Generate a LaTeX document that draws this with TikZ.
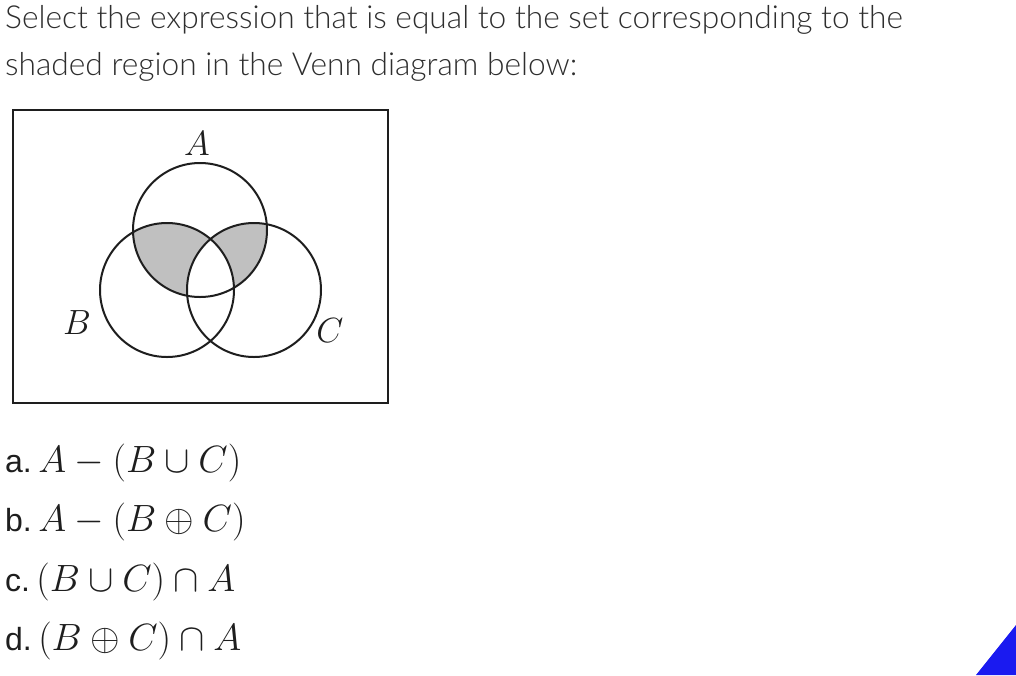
\RequirePackage{fix-cm}
\documentclass[tikz,border=0pt]{standalone}
\usepackage{fontspec}
\newfontfamily\titlefont{Lato Light}
\newfontfamily\optfont{Liberation Sans}
\definecolor{titlegray}{HTML}{2E2E2E}
\definecolor{venngray}{HTML}{C0C0C0}
\definecolor{ink}{HTML}{1E1E1E}
\definecolor{blueblob}{HTML}{1A1AF0}
\tikzset{
  titletext/.style={anchor=base west, inner sep=0pt, font=\titlefont\fontsize{31.7}{36}\selectfont, text=titlegray},
  opttext/.style={anchor=base west, inner sep=0pt, font=\optfont\fontsize{32}{36}\selectfont, text=ink},
  setlabel/.style={inner sep=0pt, font=\fontsize{35}{38}\selectfont, text=ink},
  vennline/.style={draw=ink, line width=2pt},
}
\newcommand{\optline}[2]{#1\hspace{0.2em}{\fontsize{38}{40}\selectfont$#2$}}
\begin{document}
\begin{tikzpicture}[x=1pt,y=-1pt]
\useasboundingbox (0,0) rectangle (1016,675);
\fill[white] (0,0) rectangle (1016,675);
% title
\node[titletext] (t1) at (5,28) {Select the expression that is equal to the set corresponding to the};
\node[titletext] (t2) at (5,75) {shaded region in the Venn diagram below:};
% frame
\draw[draw=ink, line width=2.4pt] (13,110) rectangle (388,403);
\coordinate (ca) at (200,230);
\coordinate (cb) at (167,290);
\coordinate (cc) at (254,290);
% shading A cap (B xor C)
\begin{scope}
  \clip (ca) circle (67);
  \fill[venngray, even odd rule] (cb) circle (67) (cc) circle (67);
\end{scope}
\draw[vennline] (ca) circle (67);
\draw[vennline] (cb) circle (67);
\draw[vennline] (cc) circle (67);
\node[setlabel] (la) at (197,144) {$A$};
\node[setlabel] (lb) at (77,323) {$B$};
\node[setlabel] (lc) at (330,331) {$C$};
% options
\node[opttext] (oa) at (5,472) {\optline{a.}{A-(B\cup C)}};
\node[opttext] (ob) at (5,531) {\optline{b.}{A-(B\oplus C)}};
\node[opttext] (oc) at (5,591) {\optline{c.}{(B\cup C)\cap A}};
\node[opttext] (od) at (5,650) {\optline{d.}{(B\oplus C)\cap A}};
% blue corner mark
\fill[blueblob] (976,675) -- (1016,625) -- (1016,675) -- cycle;
\end{tikzpicture}
\end{document}
